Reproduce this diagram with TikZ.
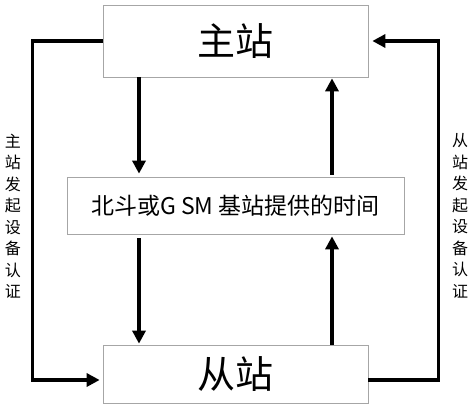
\documentclass[tikz,border=0pt]{standalone}
\usepackage{fontspec}
\setmainfont{Noto Sans CJK SC}
\usetikzlibrary{arrows.meta}
\tikzset{box/.style={draw=gray!70,line width=.7pt,minimum width=265pt,inner sep=0pt},
  link/.style={line width=3.2pt,-{Triangle[length=13pt,width=13pt]}},
  side/.style={align=center,font=\fontsize{16}{21.5}\selectfont}}
\begin{document}
\begin{tikzpicture}[x=1pt,y=-1pt]
\useasboundingbox (0,0) rectangle (474,409);

\node[box,minimum height=72pt] (zhu) at (235.5,41) {\fontsize{38}{38}\selectfont 主站};
\node[box,minimum width=337pt,minimum height=57pt] (time) at (235.5,205.5) {\fontsize{23}{23}\selectfont 北斗或G SM 基站提供的时间};
\node[box,minimum height=58pt] (cong) at (235.5,374) {\fontsize{38}{38}\selectfont 从站};

% inner arrows
\draw[link] ([xshift=-96.5pt]zhu.south) -- ([xshift=-96.5pt,yshift=3pt]time.north);
\draw[link] ([xshift=-96.5pt,yshift=-4pt]time.south) -- ([xshift=-96.5pt,yshift=1pt]cong.north);
\draw[link] ([xshift=96.5pt]cong.north) -- ([xshift=96.5pt,yshift=-2pt]time.south);
\draw[link] ([xshift=96.5pt,yshift=2pt]time.north) -- ([xshift=96.5pt,yshift=-1pt]zhu.south);

% outer loops
\draw[link] (zhu.west) -- ++(-70,0) |- ([xshift=-3pt,yshift=-6pt]cong.west);
\draw[link] ([yshift=-6pt]cong.east) -- ++(70,0) |- ([xshift=4pt]zhu.east);

\node[side] (lzhu) at (13,216) {主\\站\\发\\起\\设\\备\\认\\证};
\node[side] (lcong) at (460,216) {从\\站\\发\\起\\设\\备\\认\\证};
\end{tikzpicture}
\end{document}
